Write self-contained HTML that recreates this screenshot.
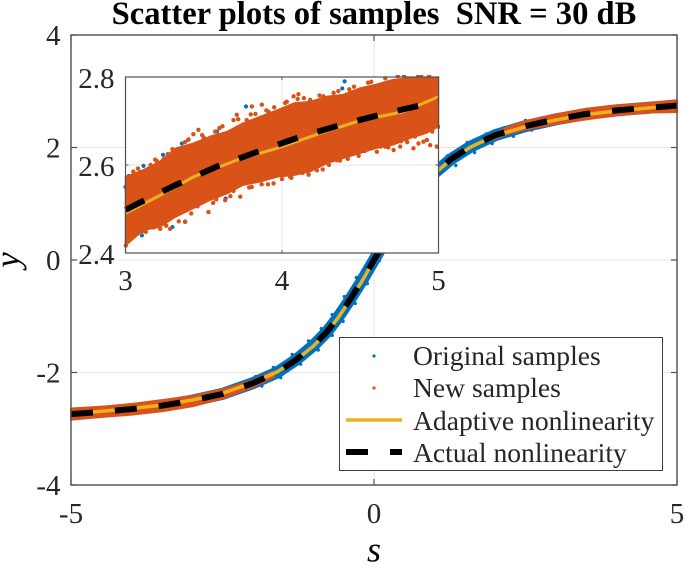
<!DOCTYPE html>
<html>
<head>
<meta charset="utf-8">
<style>
html,body{margin:0;padding:0;background:#fff;width:685px;height:564px;overflow:hidden}
svg{display:block}
text{font-family:"Liberation Serif",serif;fill:#262626}
</style>
</head>
<body>
<svg id="chart" width="685" height="564" viewBox="0 0 685 564" xmlns="http://www.w3.org/2000/svg">
<defs>
<clipPath id="inset-clip"><rect x="123" y="75" width="317" height="180"/></clipPath>
</defs>
<g id="main-layer"></g>
<g id="inset-layer"></g>
<g id="legend">
  <rect x="339.5" y="337.5" width="323" height="133" fill="#fff" stroke="#404040" stroke-width="1"/>
  <circle cx="374" cy="356" r="1.6" fill="#0072bd"/>
  <circle cx="374" cy="388" r="1.6" fill="#d95319"/>
  <line x1="346" y1="420" x2="402" y2="420" stroke="#edb120" stroke-width="3.5"/>
  <line x1="346" y1="452" x2="402" y2="452" stroke="#000" stroke-width="6" stroke-dasharray="22 22"/>
  <text x="413" y="365" font-size="27.6">Original samples</text>
  <text x="413" y="397" font-size="27.6">New samples</text>
  <text x="413" y="430" font-size="27.6">Adaptive nonlinearity</text>
  <text x="413" y="462" font-size="27.6">Actual nonlinearity</text>
</g>
<text x="374" y="24" font-size="32.6" font-weight="bold" text-anchor="middle" style="white-space:pre;fill:#000">Scatter plots of samples  SNR = 30 dB</text>
<text x="374" y="561.5" font-size="36" font-style="italic" text-anchor="middle" style="fill:#000">s</text>
<text transform="translate(19,260) rotate(-90)" font-size="35" font-style="italic" text-anchor="middle" style="fill:#000">y</text>
</svg>
<script>
// ---- Main axes data ----
const mainXTicks = [-5, 0, 5];
const mainYTicks = [-4, -2, 0, 2, 4];
const curveS = [-5,-4.5,-4,-3.5,-3,-2.5,-2,-1.6,-1.28,-1,-0.78,-0.6,-0.4,-0.2,0,0.2,0.4,0.6,0.78,1,1.28,1.6,2,2.5,3,3.5,4,4.5,5];
const actualY = [-2.74,-2.70,-2.65,-2.59,-2.50,-2.38,-2.19,-2.00,-1.77,-1.52,-1.28,-1.03,-0.71,-0.37,0,0.37,0.71,1.03,1.28,1.55,1.80,2.02,2.22,2.38,2.50,2.596,2.66,2.704,2.744];
const adaptiveY = [-2.73,-2.69,-2.64,-2.58,-2.49,-2.37,-2.18,-1.99,-1.77,-1.53,-1.29,-1.04,-0.72,-0.38,0,0.36,0.70,1.02,1.27,1.54,1.79,2.01,2.21,2.37,2.49,2.585,2.65,2.70,2.75];
const newRightS = [1.9,2.2,2.5,3,3.5,4,4.5,5];
const newRightUpper = [2.20,2.36,2.47,2.59,2.69,2.75,2.79,2.84];
const newRightLower = [2.12,2.24,2.32,2.42,2.50,2.57,2.62,2.63];
const newLeftS = [-5,-4.5,-4,-3.5,-3,-2.5,-2,-1.65];
const newLeftUpper = [-2.64,-2.61,-2.56,-2.49,-2.42,-2.30,-2.14,-1.98];
const newLeftLower = [-2.84,-2.79,-2.75,-2.69,-2.60,-2.46,-2.26,-2.08];
const originalOutlierS = [-0.69,-0.51,-0.49,-0.31,-0.29,-0.11,-0.87,-0.69,-1.08,-0.92,-1.35,-1.21,-1.66,-1.54,-1.95,-1.85,-0.05,0.09,1.21,1.35,1.54,1.66,1.85,1.95,2.15,2.3,2.5,2.6];
const originalOutlierY = [-0.97,-1.09,-0.65,-0.77,-0.31,-0.42,-1.22,-1.34,-1.44,-1.60,-1.68,-1.85,-1.91,-2.09,-2.07,-2.24,-0.04,-0.01,1.85,1.68,2.09,1.91,2.24,2.07,2.35,2.20,2.48,2.31];

// ---- Inset data ----
const insetXTicks = [3, 4, 5];
const insetYTicks = [2.4, 2.6, 2.8];
const insetTickText = ["2.4", "2.6", "2.8"];
const bandS = [3,3.115,3.22,3.32,3.43,3.54,3.65,3.75,3.86,3.97,4.08,4.18,4.29,4.39,4.5,4.6,4.71,4.82,4.92,5];
const bandUpper = [2.573,2.589,2.608,2.638,2.649,2.665,2.676,2.695,2.710,2.725,2.741,2.744,2.756,2.760,2.775,2.783,2.794,2.798,2.798,2.8];
const bandLower = [2.417,2.452,2.459,2.482,2.501,2.520,2.535,2.554,2.562,2.573,2.577,2.585,2.604,2.615,2.627,2.638,2.646,2.661,2.672,2.687];
const insetOriginalS = [4.4,4.385,4.18,3.915,3.77,3.585,3.36,3.4,3.24,3.31,3.115,3.095,3.02,3.0,3.64,3.95,3.105,3.04,3.31,3.35,3.38,3.3];
const insetOriginalY = [2.79,2.774,2.744,2.719,2.733,2.676,2.649,2.657,2.623,2.631,2.598,2.584,2.575,2.55,2.524,2.575,2.440,2.44,2.484,2.50,2.471,2.459];
const insetNewS = [3.466,3.434,3.573,3.552,3.690,3.711,3.807,3.871,4.031,4.074,4.105,4.180,4.265,3.914,3.775,3.243,3.200,3.360,3.403,3.002,3.094,3.222,3.285,3.381,3.530,3.637,3.733,3.807,3.946,4.052,4.223,4.350,4.457,4.606,4.713,4.840,4.904,4.947,4.989,4.926,4.872,4.755,4.659,5.0,3.05,3.16,3.27,3.5,3.62,3.83,3.95,4.14,4.33,4.46,4.55,4.66,4.78,3.01,3.13,3.26,3.46,3.58,3.69,3.87,4.0,4.13,4.3,4.42,4.53,4.68,4.8,4.97,4.99,4.87,4.94,3.08,3.19,3.3,3.38,3.49,3.6,3.72,3.8,3.9,4.02,4.1,4.24,4.36,4.43,4.57,4.74,4.89,3.03,3.11,3.18,3.34,3.42,3.56,3.67,3.79,3.91,4.06,4.17,4.26,4.37,4.49,4.63,4.76,4.85,4.96];
const insetNewY = [2.680,2.670,2.676,2.653,2.702,2.714,2.733,2.737,2.744,2.756,2.761,2.748,2.756,2.721,2.702,2.613,2.609,2.638,2.658,2.417,2.452,2.455,2.455,2.471,2.493,2.520,2.528,2.550,2.558,2.573,2.588,2.611,2.626,2.630,2.634,2.638,2.653,2.645,2.642,2.657,2.649,2.642,2.642,2.687,2.585,2.600,2.625,2.662,2.688,2.716,2.731,2.752,2.764,2.778,2.787,2.797,2.802,2.43,2.448,2.462,2.506,2.522,2.541,2.556,2.568,2.582,2.600,2.614,2.632,2.640,2.652,2.70,2.78,2.802,2.803,2.592,2.612,2.636,2.652,2.668,2.684,2.704,2.715,2.724,2.741,2.750,2.758,2.768,2.772,2.789,2.802,2.804,2.436,2.450,2.458,2.472,2.490,2.514,2.529,2.549,2.556,2.571,2.578,2.590,2.610,2.621,2.642,2.654,2.665,2.676];
const insetActualS = [3,3.06,3.317,3.58,3.843,4.116,4.393,4.67,4.94,5];
const insetActualY = [2.498,2.509,2.554,2.596,2.630,2.664,2.693,2.718,2.740,2.745];
const insetAdaptiveS = [3,3.22,3.434,3.711,3.967,4.244,4.5,4.776,5];
const insetAdaptiveY = [2.49,2.531,2.573,2.611,2.638,2.672,2.701,2.721,2.755];

// ---- Axis functions ----
const mainX = v => 374 + (v / 5) * 303;
const mainY = v => 260 - (v / 4) * 225;
const insetX = v => 125.5 + ((v - 3) / 2) * 313;
const insetY = v => 253 - ((v - 2.4) / 0.4) * 176;

const NS = 'http://www.w3.org/2000/svg';
function mk(parent, tag, props) {
  const el = document.createElementNS(NS, tag);
  for (const k in props) el.setAttribute(k, props[k]);
  parent.appendChild(el);
  return el;
}
function pts(xs, ys, fx, fy) {
  return xs.map((x, i) => fx(x).toFixed(2) + ',' + fy(ys[i]).toFixed(2)).join(' ');
}
function bandPts(xs, up, lo, fx, fy) {
  const a = xs.map((x, i) => fx(x).toFixed(2) + ',' + fy(up[i]).toFixed(2));
  const b = xs.map((x, i) => fx(x).toFixed(2) + ',' + fy(lo[i]).toFixed(2)).reverse();
  return a.concat(b).join(' ');
}
const GRID = '#e4e4e4', AXIS = '#505050';
const main = document.getElementById('main-layer');
const inset = document.getElementById('inset-layer');

// Main plot
const mainBg = mk(main, 'rect', {x: 71, y: 35, width: 606, height: 450, fill: '#fff'});


mainXTicks.forEach(t => {
  if (t === -5 || t === 5) return;
  const g = mk(main, 'line', {x1: mainX(t), x2: mainX(t), y1: 35, y2: 485, stroke: GRID, 'stroke-width': 1});
  
  
});
mainYTicks.forEach(t => {
  if (t === -4 || t === 4) return;
  const g = mk(main, 'line', {x1: 71, x2: 677, y1: mainY(t), y2: mainY(t), stroke: GRID, 'stroke-width': 1});
  
  
});
const blueBand = mk(main, 'polyline', {points: pts(curveS, actualY, mainX, mainY), fill: 'none', stroke: '#0072bd', 'stroke-width': 12, 'stroke-linejoin': 'round'});


originalOutlierS.forEach((s, i) => {
  const c = mk(main, 'circle', {cx: mainX(s), cy: mainY(originalOutlierY[i]), r: 1.7, fill: '#0072bd'});
  
  
});
const orangeR = mk(main, 'polygon', {points: bandPts(newRightS, newRightUpper, newRightLower, mainX, mainY), fill: '#d95319', stroke: '#d95319', 'stroke-width': 2, 'stroke-linejoin': 'round'});


const orangeL = mk(main, 'polygon', {points: bandPts(newLeftS, newLeftUpper, newLeftLower, mainX, mainY), fill: '#d95319', stroke: '#d95319', 'stroke-width': 2, 'stroke-linejoin': 'round'});


const adaptMain = mk(main, 'polyline', {points: pts(curveS, adaptiveY, mainX, mainY), fill: 'none', stroke: '#edb120', 'stroke-width': 3.5});


const actualMain = mk(main, 'polyline', {points: pts(curveS, actualY, mainX, mainY), fill: 'none', stroke: '#000', 'stroke-width': 6, 'stroke-dasharray': '22 22'});


const mainBox = mk(main, 'rect', {x: 71, y: 35, width: 606, height: 450, fill: 'none', stroke: AXIS, 'stroke-width': 1.4});


mainXTicks.forEach(t => {
  const x = mainX(t);
  const a = mk(main, 'path', {d: `M${x} 485v-6M${x} 35v6`, stroke: AXIS, 'stroke-width': 1.2, fill: 'none'});
  
  
  const l = mk(main, 'text', {x: x, y: 523, 'font-size': 29, 'text-anchor': 'middle'});
  l.textContent = String(t);
  
  
});
mainYTicks.forEach(t => {
  const y = mainY(t);
  const a = mk(main, 'path', {d: `M71 ${y}h6M677 ${y}h-6`, stroke: AXIS, 'stroke-width': 1.2, fill: 'none'});
  
  
  const l = mk(main, 'text', {x: 60.5, y: y + 10, 'font-size': 29, 'text-anchor': 'end'});
  l.textContent = String(t);
  
  
});

// Inset plot
const insetBg = mk(inset, 'rect', {x: 125.5, y: 77, width: 313, height: 176, fill: '#fff'});


const igx = mk(inset, 'line', {x1: insetX(4), x2: insetX(4), y1: 77, y2: 253, stroke: GRID, 'stroke-width': 1});


const igy = mk(inset, 'line', {x1: 125.5, x2: 438.5, y1: insetY(2.6), y2: insetY(2.6), stroke: GRID, 'stroke-width': 1});


const clip = mk(inset, 'g', {'clip-path': 'url(#inset-clip)'});


insetOriginalS.forEach((s, i) => {
  const c = mk(clip, 'circle', {cx: insetX(s), cy: insetY(insetOriginalY[i]), r: 2.1, fill: '#0072bd'});
  
  
});
const iBand = mk(clip, 'polygon', {points: bandPts(bandS, bandUpper, bandLower, insetX, insetY), fill: '#d95319', stroke: '#d95319', 'stroke-width': 1.5, 'stroke-linejoin': 'round'});


insetNewS.forEach((s, i) => {
  const c = mk(clip, 'circle', {cx: insetX(s), cy: insetY(insetNewY[i]), r: 2.2, fill: '#d95319'});
  
  
});
const iAdapt = mk(clip, 'polyline', {points: pts(insetAdaptiveS, insetAdaptiveY, insetX, insetY), fill: 'none', stroke: '#edb120', 'stroke-width': 3});


const iActual = mk(clip, 'polyline', {points: pts(insetActualS, insetActualY, insetX, insetY), fill: 'none', stroke: '#000', 'stroke-width': 6, 'stroke-dasharray': '21 20.5'});


const iBox = mk(inset, 'rect', {x: 125.5, y: 77, width: 313, height: 176, fill: 'none', stroke: AXIS, 'stroke-width': 1.2});


insetXTicks.forEach(t => {
  const x = insetX(t);
  const a = mk(inset, 'path', {d: `M${x} 253v-3M${x} 77v3`, stroke: AXIS, 'stroke-width': 1, fill: 'none'});
  
  
  const l = mk(inset, 'text', {x: x, y: 290, 'font-size': 29, 'text-anchor': 'middle'});
  l.textContent = String(t);
  
  
});
insetYTicks.forEach((t, i) => {
  const y = insetY(t);
  const a = mk(inset, 'path', {d: `M125.5 ${y}h3M438.5 ${y}h-3`, stroke: AXIS, 'stroke-width': 1, fill: 'none'});
  
  
  const l = mk(inset, 'text', {x: 114.5, y: y + 11, 'font-size': 29, 'text-anchor': 'end'});
  l.textContent = insetTickText[i];
  
  
});
</script>
</body>
</html>
